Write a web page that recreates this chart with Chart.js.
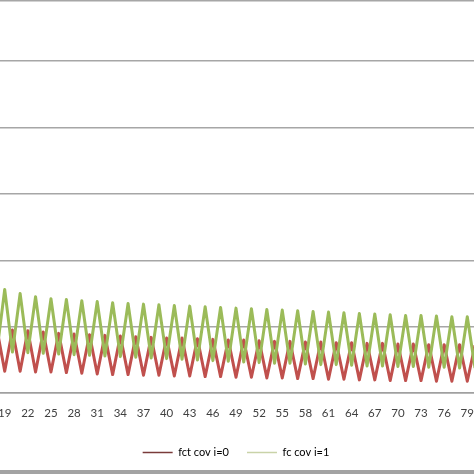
<!DOCTYPE html>
<html>
<head>
<meta charset="utf-8">
<script src="https://cdn.jsdelivr.net/npm/chart.js@4.4.1/dist/chart.umd.min.js"></script>
<style>
  html, body { margin: 0; padding: 0; background: #fff; overflow: hidden; }
  body { width: 474px; height: 474px; position: relative; }
  #wrap { position: absolute; left: -3px; top: 0; width: 478px; height: 474px; }
  #bottomBar { position: absolute; left: 0; top: 470px; width: 474px; height: 4px; background: #a3a3a3; }
</style>
</head>
<body>
<div id="wrap"><canvas id="chart"></canvas></div>
<div id="bottomBar"></div>
<script>
/* ── Data ── */
const categories = [18,19,20,21,22,23,24,25,26,27,28,29,30,31,32,33,34,35,36,37,38,39,40,
  41,42,43,44,45,46,47,48,49,50,51,52,53,54,55,56,57,58,59,60,61,62,63,64,65,66,67,68,69,70,
  71,72,73,74,75,76,77,78,79,80];

const fctCov0 = [0.96,0.33,0.95,0.33,0.94,0.32,0.92,0.32,0.90,0.31,0.89,0.30,0.88,0.29,0.87,
  0.28,0.86,0.28,0.85,0.27,0.84,0.27,0.83,0.26,0.83,0.26,0.82,0.25,0.81,0.25,0.80,0.24,0.80,
  0.24,0.79,0.23,0.78,0.23,0.78,0.22,0.77,0.22,0.77,0.21,0.76,0.21,0.76,0.20,0.75,0.20,0.75,
  0.19,0.74,0.19,0.74,0.19,0.73,0.18,0.73,0.18,0.73,0.18,0.72];

const fcCov1 = [0.64,1.56,0.62,1.50,0.61,1.45,0.60,1.42,0.59,1.41,0.58,1.39,0.57,1.38,0.56,
  1.36,0.55,1.35,0.54,1.34,0.53,1.33,0.52,1.32,0.51,1.31,0.50,1.30,0.49,1.29,0.48,1.28,0.47,
  1.27,0.46,1.26,0.45,1.25,0.45,1.24,0.44,1.23,0.43,1.22,0.43,1.21,0.42,1.20,0.41,1.19,0.41,
  1.18,0.40,1.17,0.40,1.17,0.39,1.16,0.39,1.15,0.38,1.15,0.38];

const seriesNames = ['fct cov i=0', 'fc cov i=1'];
const shownLabels = [19,22,25,28,31,34,37,40,43,46,49,52,55,58,61,64,67,70,73,76,79];

const RED   = '#c0504d';
const GREEN = '#9bbb59';

/* ── Chart ── */
const ctx = document.getElementById('chart').getContext('2d');
new Chart(ctx, {
  type: 'line',
  data: {
    labels: categories,
    datasets: [
      {
        label: seriesNames[0],
        data: fctCov0,
        borderColor: RED, backgroundColor: RED,
        borderWidth: 3, borderJoinStyle: 'round',
        pointRadius: 0, tension: 0, order: 2
      },
      {
        label: seriesNames[1],
        data: fcCov1,
        borderColor: GREEN, backgroundColor: GREEN,
        borderWidth: 3, borderJoinStyle: 'round',
        pointRadius: 0, tension: 0, order: 1
      }
    ]
  },
  options: {
    responsive: true,
    maintainAspectRatio: false,
    animation: false,
    layout: { autoPadding: false, padding: { top: 1, left: 0, right: 0, bottom: 6 } },
    scales: {
      x: {
        grid: { display: false, drawTicks: false },
        border: { color: '#a0a0a0', width: 1.5 },
        // ticks.padding also pads the sides; drop that, keep the vertical gap
        afterFit: scale => {
          scale.height -= 4;
          scale.paddingLeft = 0;
          scale.paddingRight = 0;
        },
        ticks: {
          autoSkip: false, maxRotation: 0, padding: 13,
          color: '#404040',
          font: { family: 'Lato', size: 11.5 },
          callback: function (v) {
            const lab = this.getLabelForValue(v);
            return shownLabels.includes(lab) ? String(lab) : '';
          }
        }
      },
      y: {
        min: 0, max: 5.9,
        afterFit: scale => { scale.width = 0; },
        ticks: { display: false, stepSize: 1 },
        grid: { color: '#a6a6a6', lineWidth: 1.5, drawTicks: false },
        border: { display: false }
      }
    },
    plugins: {
      tooltip: { enabled: false },
      legend: {
        position: 'bottom',
        labels: {
          color: '#303030',
          font: { family: 'Lato', size: 11 },
          usePointStyle: true,
          pointStyleWidth: 30,
          padding: 18,
          generateLabels: chart => chart.data.datasets.map((ds, i) => ({
            text: ds.label,
            pointStyle: 'line',
            strokeStyle: i === 0 ? '#7a3b3a' : '#c9d3a8',
            fillStyle: 'transparent',
            lineWidth: 1.5,
            datasetIndex: i,
            hidden: false
          }))
        }
      }
    }
  }
});
</script>
</body>
</html>
